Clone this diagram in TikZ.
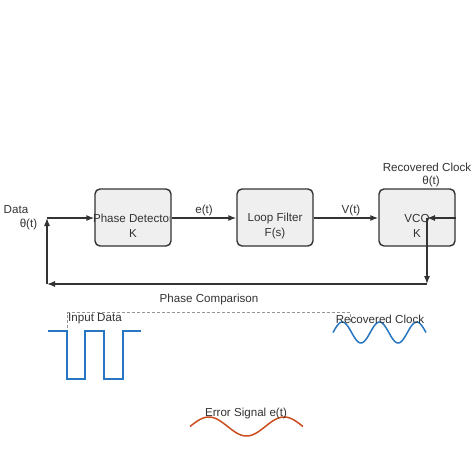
\documentclass[tikz,border=0pt]{standalone}
\usepackage{fontspec}
\setmainfont{Liberation Sans}
\usetikzlibrary{arrows.meta}
\definecolor{ink}{RGB}{51,51,51}
\definecolor{boxfill}{RGB}{239,239,239}
\definecolor{wblue}{RGB}{38,118,194}
\definecolor{worange}{RGB}{204,78,30}
\definecolor{dashgray}{RGB}{150,150,150}
\begin{document}
\begin{tikzpicture}[x=1pt,y=-1pt,
  blockbox/.style={draw=ink,line width=1.4pt,fill=boxfill,rounded corners=5pt,minimum width=76pt,minimum height=57pt,inner sep=0pt},
  lbl/.style={font=\fontsize{11.6}{14}\selectfont,text=ink,inner sep=0pt},
  blocktext/.style={font=\fontsize{11.6}{15}\selectfont,text=ink,align=center,inner sep=0pt},
  conn/.style={draw=ink,line width=1.2pt,-{Latex[length=8pt,width=6pt]}},
  wave/.style={line width=1.5pt}]
\useasboundingbox (0,0) rectangle (474,474);
\fill[white] (0,0) rectangle (474,474);
% blocks
\node[blockbox] (pd) at (133,217.5) {};
\node[blockbox] (lf) at (275,217.5) {};
\node[blockbox] (vco) at (417,217.5) {};
\begin{scope}
\clip (90,190) rectangle (169.5,245);
\node[blocktext] (pdt) at (133,225.5) {Phase Detector\\K};
\end{scope}
\node[blocktext] (lft) at (275,225.5) {Loop Filter\\F(s)};
\node[blocktext] (vcot) at (417,225.5) {VCO\\K};
% coordinates
\coordinate (inp) at (47,218);
\coordinate (fb1) at (47,284);
\coordinate (vin) at (427,218);
\coordinate (fb2) at (427,284);
% connectors
\draw[conn] (inp) -- (pd.west|-inp);
\draw[conn] (pd.east|-inp) -- (lf.west|-inp);
\draw[conn] (lf.east|-inp) -- (vco.west|-inp);
\draw[conn] (vco.east|-vin) -- (vin);
\draw[conn] (vin) -- (fb2);
\draw[conn] (fb2) -- (fb1);
\draw[conn] (fb1) -- (inp);
% labels
\node[lbl] (ldata) at (16,209.5) {Data};
\node[lbl] (ltheta1) at (28.5,224) {θ(t)};
\node[lbl] (lrc) at (427,167) {Recovered Clock};
\node[lbl] (ltheta2) at (431,181) {θ(t)};
\node[lbl] (let) at (204,210) {e(t)};
\node[lbl] (lvt) at (351,210) {V(t)};
\node[lbl] (lpc) at (209,299) {Phase Comparison};
% dashed region
\draw[dashgray,line width=0.8pt,dash pattern=on 3pt off 2pt] (67,328) -- (67,312.5) -- (350,312.5) -- (350,322);
% square wave
\draw[wblue,wave] (48,331) -- (67,331) -- (67,379) -- (85,379) -- (85,331) -- (104,331) -- (104,379) -- (123,379) -- (123,331) -- (141,331);
\node[lbl] (lin) at (95,319) {Input Data};
% recovered clock sine
\draw[wblue,wave] plot[domain=0:900,samples=120,smooth] ({333+\x/360*37.2},{332.5-10.5*sin(\x)});
\node[lbl] (lrc2) at (380,319) {Recovered Clock};
% error signal
\draw[worange,wave] plot[domain=0:540,samples=100,smooth] ({190+\x/360*75.3},{426.5-9.5*sin(\x)});
\node[lbl] (lerr) at (246,413) {Error Signal e(t)};
\end{tikzpicture}
\end{document}
